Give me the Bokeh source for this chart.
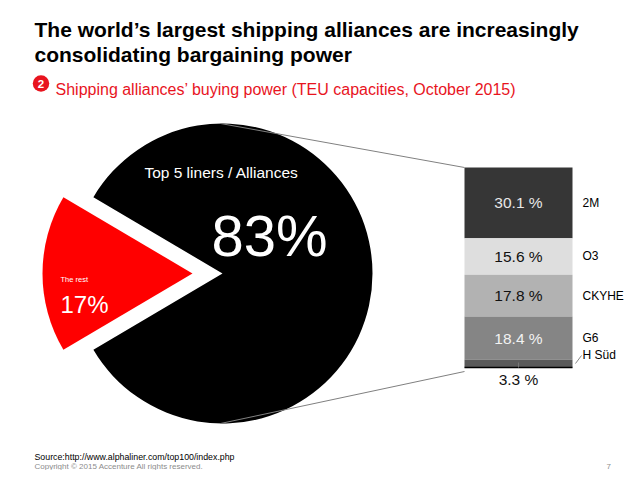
import math
from bokeh.plotting import figure
from bokeh.models import Range1d, ColumnDataSource, Label
from bokeh.core.properties import value
from bokeh.embed import file_html
from bokeh.resources import INLINE

# ---- data ----
pie_labels = ["Top 5 liners / Alliances", "The rest"]
pie_shares = [83, 17]
alliances = ["2M", "O3", "CKYHE", "G6", "H Süd"]
alliance_shares = [30.1, 15.6, 17.8, 18.4, 3.3]
seg_colors = ["#363636", "#dedede", "#b2b2b2", "#858585", "#5a5a5a"]
pct_colors = ["#e8e8e8", "#111111", "#111111", "#f2f2f2", "#111111"]

FONT = "Liberation Sans"
W, H = 630, 470


def Y(py):
    """page pixel row -> data y"""
    return H - py


p = figure(width=W, height=H, x_range=Range1d(0, W), y_range=Range1d(0, H),
           x_axis_type=None, y_axis_type=None, toolbar_location=None,
           output_backend="svg", min_border=0, outline_line_color=None)
p.xgrid.visible = False
p.ygrid.visible = False

# ---- pie ----
cx, cy, R, explode = 222, Y(273), 150, 30
rest_frac = pie_shares[1] / sum(pie_shares)
half = math.pi * rest_frac
p.wedge(x=cx, y=cy, radius=R, radius_units="screen",
        start_angle=math.pi + half, end_angle=math.pi - half,
        fill_color="black", line_color=None)
p.wedge(x=cx - explode, y=cy, radius=R, radius_units="screen",
        start_angle=math.pi - half, end_angle=math.pi + half,
        fill_color="#ff0000", line_color=None)

# ---- stacked bar on its own scale ----
total = sum(alliance_shares)
bar_bot_px, bar_top_px = Y(367), Y(167)
scale = (bar_top_px - bar_bot_px) / total
p.extra_y_ranges = {"bar": Range1d(-bar_bot_px / scale, (H - bar_bot_px) / scale)}

bottoms, tops = [], []
acc = 0.0
for v in reversed(alliance_shares):
    bottoms.append(acc)
    acc += v
    tops.append(acc)
bottoms = bottoms[::-1]
tops = tops[::-1]
mids = [(b + t) / 2 for b, t in zip(bottoms, tops)]

src = ColumnDataSource(dict(name=alliances, share=alliance_shares, bottom=bottoms, top=tops,
                            mid=mids, color=seg_colors, tcolor=pct_colors,
                            pct=[f"{v} %" for v in alliance_shares],
                            yoff=[0, 0, 0, 0, -9]))
p.quad(left=464, right=572, bottom="bottom", top="top", fill_color="color",
       line_color=None, source=src, y_range_name="bar")

inside = ColumnDataSource(dict(mid=mids[:4], pct=[f"{v} %" for v in alliance_shares[:4]],
                               tcolor=pct_colors[:4]))
p.text(x=518, y="mid", text="pct", text_color="tcolor", source=inside, y_range_name="bar",
       text_align="center", text_baseline="middle", text_font=value(FONT),
       text_font_size="15.5px")
p.text(x=582, y="mid", text="name", y_offset="yoff", source=src, y_range_name="bar",
       text_align="left", text_baseline="middle", text_font=value(FONT),
       text_font_size="12px", text_color="black")
p.text(x=[518], y=[0], text=[f"{alliance_shares[4]} %"], y_offset=[12], y_range_name="bar",
       text_align="center", text_baseline="middle", text_font=value(FONT),
       text_font_size="15.5px", text_color="#111111")

# bar baseline, small tick and leader
p.segment(x0=[464], y0=[Y(367)], x1=[572], y1=[Y(367)], line_color="black", line_width=1.5)
p.segment(x0=[518], y0=[Y(362)], x1=[518], y1=[Y(367)], line_color="#777777", line_width=1)
p.segment(x0=[575], y0=[Y(363)], x1=[581], y1=[Y(355)], line_color="#888888", line_width=1)

# connector lines
p.segment(x0=[220, 220], y0=[Y(123), Y(423)], x1=[464, 464], y1=[Y(167), Y(371)],
          line_color="#808080", line_width=1)


def label(x, y, text, size, color="black", bold=False, align="left"):
    p.add_layout(Label(x=x, y=Y(y), text=text, text_font=FONT, text_font_size=f"{size}px",
                       text_color=color, text_align=align, text_baseline="alphabetic",
                       text_font_style="bold" if bold else "normal"))


# pie texts
label(221, 172, pie_labels[0], 15.5, "white", align="center")
label(269, 235, f"{pie_shares[0]}%", 58, "white", align="center")
label(60, 279, pie_labels[1], 7.5, "white")
label(60, 304, f"{pie_shares[1]}%", 24, "white")

# titles
label(34, 29, "The world\u2019s largest shipping alliances are increasingly", 21, bold=True)
label(34, 54, "consolidating bargaining power", 21, bold=True)
p.scatter(x=[40.5], y=[Y(83)], marker="circle", size=16.5, fill_color="#e8141e",
          line_color=None)
p.text(x=[40.5], y=[Y(83)], text=["2"], text_align="center", text_baseline="middle",
       text_font=value(FONT), text_font_style="bold", text_font_size="11.5px",
       text_color="white")
label(55, 89, "Shipping alliances\u2019 buying power (TEU capacities, October 2015)", 16, "#e8141e")

# footer
label(34, 456.5, "Source:http://www.alphaliner.com/top100/index.php", 8.8)
label(34, 466, "Copyright \u00a9 2015 Accenture  All rights reserved.", 8, "#8c8c8c")
label(606, 466, "7", 8, "#8c8c8c")

open("out.html", "w").write(file_html(p, INLINE))
